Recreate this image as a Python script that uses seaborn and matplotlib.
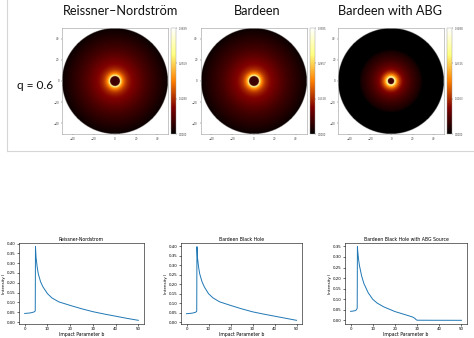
import numpy as np
import matplotlib
matplotlib.use("Agg")
import matplotlib.pyplot as plt
from matplotlib.lines import Line2D
import seaborn as sns

# ---------------- data ----------------
titles_top = ["Reissner–Nordström", "Bardeen", "Bardeen with ABG"]
titles_bottom = ["Reissner-Nordstrom", "Bardeen Black Hole", "Bardeen Black Hole with ABG Source"]
row_label = "q = 0.6"

b_rn = [0, 1, 2, 3, 4, 4.5, 4.65, 4.75, 5.0, 5.5, 6, 7, 8, 10, 12, 15, 20, 25, 30, 35, 40, 45, 50]
I_rn = [0.044, 0.045, 0.046, 0.048, 0.051, 0.055, 0.058, 0.3839, 0.33, 0.28, 0.245, 0.205,
        0.18, 0.145, 0.123, 0.103, 0.085, 0.068, 0.053, 0.041, 0.030, 0.019, 0.009]

b_bd = [0, 1, 2, 3, 4, 4.5, 4.65, 4.75, 5.0, 5.5, 6, 7, 8, 10, 12, 15, 20, 25, 30, 35, 40, 45, 50]
I_bd = [0.044, 0.045, 0.046, 0.048, 0.051, 0.055, 0.058, 0.3985, 0.34, 0.29, 0.255, 0.215,
        0.188, 0.150, 0.128, 0.107, 0.088, 0.070, 0.054, 0.042, 0.031, 0.020, 0.009]

b_abg = [0, 1, 2, 2.5, 2.9, 3.0, 3.1, 3.3, 3.6, 4, 5, 6, 8, 10, 12, 15, 20, 25, 28, 29,
         29.5, 30, 35, 40, 45, 50]
I_abg = [0.043, 0.044, 0.046, 0.049, 0.055, 0.060, 0.3488, 0.32, 0.29, 0.26, 0.21, 0.175,
         0.13, 0.10, 0.082, 0.064, 0.042, 0.026, 0.016, 0.010, 0.004, 0.001, 0.0008,
         0.0007, 0.0006, 0.0005]

profiles = [(b_rn, I_rn), (b_bd, I_bd), (b_abg, I_abg)]
disk_radius = 50
xy_ticks = [-40, -20, 0, 20, 40]

# ---------------- figure ----------------
W, H = 474, 338
fig = plt.figure(figsize=(W / 100, H / 100), dpi=100)
fig.patch.set_facecolor("white")

def box(x0, y0, x1, y1):
    return [x0 / W, 1 - y1 / H, (x1 - x0) / W, (y1 - y0) / H]

cmap = plt.get_cmap("afmhot").copy()
cmap.set_bad("white")

top_axes = [(62, 28, 168, 134), (200, 28, 307, 134), (338, 28, 445, 134)]
top_cbars = [(171, 28, 176, 134), (310, 28, 315, 134), (447, 28, 452, 134)]
title_x = [121, 257, 390]

N = 400
g = np.linspace(-disk_radius, disk_radius, N)
X, Y = np.meshgrid(g, g)
R = np.hypot(X, Y)

title_font = ["Lato", "DejaVu Sans"]

for k, (bb, II) in enumerate(profiles):
    ax = fig.add_axes(box(*top_axes[k]))
    img = np.interp(R, bb, II)
    img[R > disk_radius] = np.nan
    vmax = max(II)
    im = ax.imshow(img, cmap=cmap, vmin=0, vmax=vmax, origin="lower",
                   extent=[-disk_radius, disk_radius, -disk_radius, disk_radius],
                   interpolation="bilinear")
    ax.set_xticks(xy_ticks)
    ax.set_yticks(xy_ticks)
    ax.tick_params(labelsize=2, length=1, width=0.3, pad=1, colors="#444444")
    for s in ax.spines.values():
        s.set_linewidth(0.4)
        s.set_color("#999999")
    cax = fig.add_axes(box(*top_cbars[k]))
    cb = fig.colorbar(im, cax=cax, ticks=np.linspace(0, vmax, 4), format="%.4f")
    cb.ax.tick_params(labelsize=1.8, length=0.8, width=0.3, pad=1, colors="#444444")
    cb.outline.set_linewidth(0.3)
    cb.outline.set_edgecolor("#999999")
    fig.text(title_x[k] / W, 1 - 11 / H, titles_top[k], ha="center", va="center",
             fontsize=9.2, family=title_font, color="#111111")

fig.text(35 / W, 1 - 85 / H, row_label, ha="center", va="center",
         fontsize=8.6, family=title_font, color="#111111")

# slide frame lines
fig.add_artist(Line2D([7 / W, 7 / W], [1.0, 1 - 151 / H], color="#d6d6d6", lw=0.8,
                      transform=fig.transFigure))
fig.add_artist(Line2D([7 / W, 1.0], [1 - 151 / H, 1 - 151 / H], color="#d6d6d6", lw=0.8,
                      transform=fig.transFigure))

# ---------------- bottom line plots ----------------
bot_axes = [(19, 243, 144, 324), (181, 243, 302, 324), (345, 243, 467, 324)]
for k, (bb, II) in enumerate(profiles):
    ax = fig.add_axes(box(*bot_axes[k]))
    sns.lineplot(x=bb, y=II, ax=ax, color="#1f77b4", lw=0.7)
    ax.set_title(titles_bottom[k], fontsize=3.3, pad=1.5)
    ax.set_xlabel("Impact Parameter b", fontsize=3.3, labelpad=0.5)
    ax.set_ylabel("Intensity I", fontsize=3.0, labelpad=1)
    ax.set_xticks([0, 10, 20, 30, 40, 50])
    top = 0.40 if k < 2 else 0.35
    ax.set_yticks(np.arange(0, top + 0.001, 0.05))
    ax.yaxis.set_major_formatter(matplotlib.ticker.FormatStrFormatter("%.2f"))
    ax.tick_params(labelsize=2.9, length=1.5, width=0.4, pad=0.8)
    for s in ax.spines.values():
        s.set_linewidth(0.4)

fig.savefig("out.png", dpi=100, facecolor="white")
